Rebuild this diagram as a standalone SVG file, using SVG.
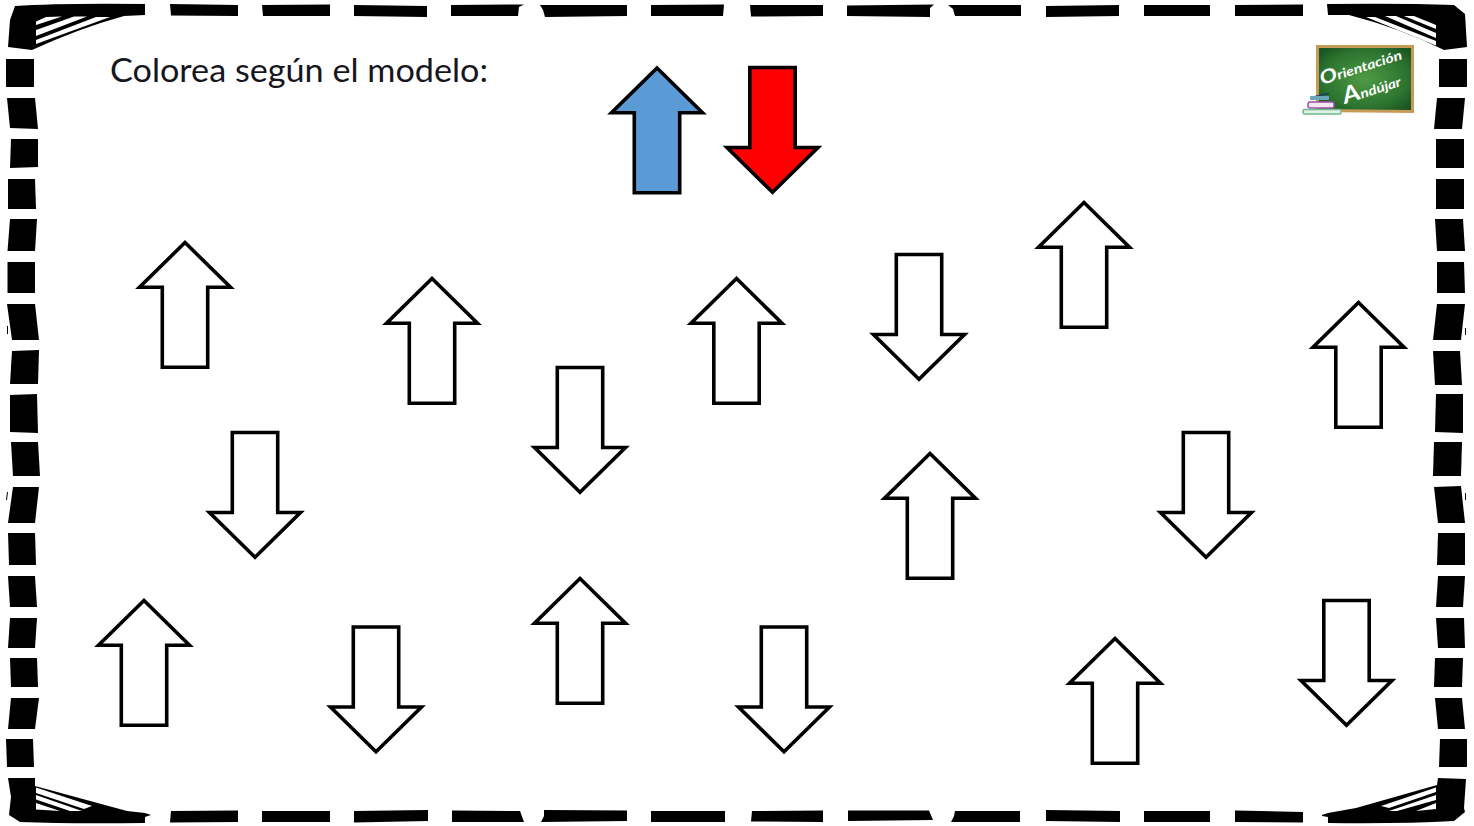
<svg xmlns="http://www.w3.org/2000/svg" width="1474" height="826" viewBox="0 0 1474 826">
<style>
.bk{fill:#000}
.wh{fill:#fff}
.arrow{fill:#fff;stroke:#000;stroke-width:3.600;stroke-linejoin:miter}
.title{font-family:"Lato","Open Sans",sans-serif;font-size:33px;fill:#16161f}
.chalk{font-family:"Lato","Noto Sans",sans-serif;font-weight:700;font-style:italic;fill:#fff}
</style>
<defs>
<path id="up" d="M0 0L45.500 44.800H22.700V124.800H-22.700V44.800H-45.500Z"/>
<path id="down" d="M-22.700 0H22.700V80H45.500L0 124.800L-45.500 80H-22.700Z"/>
<radialGradient id="board" cx="50%" cy="50%" r="65%">
<stop offset="0" stop-color="#4f9a45"/><stop offset="0.7" stop-color="#2c7430"/><stop offset="1" stop-color="#1b5522"/>
</radialGradient>
</defs>
<rect width="1474" height="826" fill="#fff"/>
<g id="border">
<path class="bk" d="M15 6Q60 3 145 4L145 15L124 16Q80 28 32 50L8 47L10 20Z"/>
<path class="wh" d="M36 21.500L36 25L62 16.500L46 17Z"/>
<path class="wh" d="M36 30L36 36L87 16.500L74 16.500Z"/>
<path class="wh" d="M36 40L36 44L110 17L96 17Z"/>
<path class="bk" d="M1327 4Q1400 3 1454 5L1465 14L1467 47L1444 50Q1400 28 1349 15L1328 15Z"/>
<path class="wh" d="M1404 16L1414 16L1436 25L1436 29Z"/>
<path class="wh" d="M1385 16L1396 16L1436 33L1436 38Z"/>
<path class="wh" d="M1366 17L1375 17L1436 41L1436 45.500Z"/>
<path class="bk" d="M8 778L35 778L35 786L127 811L145 813L151 815L145 817L145 823Q70 824 20 822L9 815L11 797Z"/>
<path class="wh" d="M36 787.500L36 793L84 809L92 806Z"/>
<path class="wh" d="M36 795L36 799.500L70 811L82 811Z"/>
<path class="wh" d="M36 803L36 809.500L60 811Z"/>
<path class="bk" d="M1322 815L1328 813L1356 808L1437 785L1438 778L1466 779L1464 808L1465 812L1454 821Q1400 824 1328 823L1328 817L1322 816Z"/>
<path class="wh" d="M1436 787.500L1436 792L1389 808L1381 806Z"/>
<path class="wh" d="M1436 795L1436 800L1397 811L1389 811Z"/>
<path class="wh" d="M1436 803L1436 809L1416 811Z"/>
<path class="bk" d="M170 4L238 5L238 16L171 15.500Z"/>
<path class="bk" d="M262 5L330 4.500L330 16L263 16Z"/>
<path class="bk" d="M354 5L427 6L427 17L354 16Z"/>
<path class="bk" d="M451 5L524 4.500L519 7L518 16L451 16Z"/>
<path class="bk" d="M540 5L627 5L627 16L545 17L543 10Z"/>
<path class="bk" d="M651 5L724 4.500L723 16L651 16Z"/>
<path class="bk" d="M750 5L823 5L823 16L751 16.500Z"/>
<path class="bk" d="M847 5.500L934 4.500L930 8L930 17L847 16Z"/>
<path class="bk" d="M948 5L1021 5L1021 16L955 16L953 9Z"/>
<path class="bk" d="M1046 6L1119 5L1119 16L1046 17Z"/>
<path class="bk" d="M1144 5L1210 5L1210 16L1144 16Z"/>
<path class="bk" d="M1235 5L1303 4.500L1303 16L1235 16Z"/>
<path class="bk" d="M171 811L238 810.500L238 822L170 822.500Z"/>
<path class="bk" d="M262 811L330 811L330 822L262 822Z"/>
<path class="bk" d="M354 811L428 810L428 821L354 822.500Z"/>
<path class="bk" d="M452 810.500L520 811L524 822L452 822Z"/>
<path class="bk" d="M544 810L627 810.500L627 821L541 822L544 816Z"/>
<path class="bk" d="M651 811L725 811L725 822L651 822Z"/>
<path class="bk" d="M752 811L823 810.500L823 822L751 821.500Z"/>
<path class="bk" d="M848 810.500L929 810.500L933 820L848 821Z"/>
<path class="bk" d="M955 811L1020 811L1020 822L951 822L954 816Z"/>
<path class="bk" d="M1046 810L1120 811L1120 822L1046 821Z"/>
<path class="bk" d="M1144 811L1210 811L1210 822L1144 822Z"/>
<path class="bk" d="M1235 810.500L1303 812L1303 822.500L1235 822Z"/>
<path class="bk" d="M6 59L34 59L34 87L6 87Z"/>
<path class="bk" d="M7 98L35 98L38 129L10 128Z"/>
<path class="bk" d="M11 139L38 139L38 167L10 168Z"/>
<path class="bk" d="M8 179L35 179L36 209L8 209Z"/>
<path class="bk" d="M10 219L37 219L35 251L7.500 251Z"/>
<path class="bk" d="M7.500 262L35 262L35 293L7.500 293Z"/>
<path class="bk" d="M7 304L35 304L39 340L12 340Z"/>
<path class="bk" d="M12 351L39 350L38 384L10 384Z"/>
<path class="bk" d="M10 395L37 394L38 433L10 432Z"/>
<path class="bk" d="M11 442L38 442L40 476L13 476Z"/>
<path class="bk" d="M13 487L39 487L35 523L8 523Z"/>
<path class="bk" d="M8 533L35 533L36 565L9 565Z"/>
<path class="bk" d="M8 576L35 576L37 607L10 607Z"/>
<path class="bk" d="M10 618L37 618L35 648L8 648Z"/>
<path class="bk" d="M10 658L37 658L38 687L11 687Z"/>
<path class="bk" d="M11 698L39 698L35 729L8 729Z"/>
<path class="bk" d="M6 739L33 739L34 767L7 767Z"/>
<path class="bk" d="M7 326L8 326L8 334L7 334Z"/>
<path class="bk" d="M7 492L8 492L7 500L6 500Z"/>
<path class="bk" d="M1439 59L1467 59L1467 87L1439 87Z"/>
<path class="bk" d="M1437 98L1465 98L1462 129L1434 129Z"/>
<path class="bk" d="M1436 139L1464 139L1464 168L1436 168Z"/>
<path class="bk" d="M1436 179L1464 179L1464 209L1436 209Z"/>
<path class="bk" d="M1435 219L1463 219L1465 251L1437 251Z"/>
<path class="bk" d="M1437 262L1464 262L1465 293L1437 293Z"/>
<path class="bk" d="M1437 304L1465 304L1461 340L1433 340Z"/>
<path class="bk" d="M1433 351L1460 351L1462 385L1435 385Z"/>
<path class="bk" d="M1436 394L1463 394L1463 433L1435 432Z"/>
<path class="bk" d="M1434 442L1462 442L1461 476L1433 476Z"/>
<path class="bk" d="M1434 487L1461 486L1465 523L1438 523Z"/>
<path class="bk" d="M1438 533L1465 533L1465 565L1437 565Z"/>
<path class="bk" d="M1438 576L1465 576L1463 607L1436 607Z"/>
<path class="bk" d="M1436 618L1464 618L1465 648L1438 648Z"/>
<path class="bk" d="M1435 658L1463 658L1462 687L1434 687Z"/>
<path class="bk" d="M1435 698L1462 698L1465 729L1438 729Z"/>
<path class="bk" d="M1440 739L1467 739L1467 767L1439 767Z"/>
<path class="bk" d="M1465 328L1466 328L1466 335L1465 335Z"/>
<path class="bk" d="M1465 493L1466 493L1466 500L1465 500Z"/>
</g>
<g id="title"><text class="title" x="110" y="82" textLength="378" lengthAdjust="spacingAndGlyphs">Colorea según el modelo:</text></g>
<g id="logo">
<path d="M1316 45L1414 45L1414 113L1316 112Z" fill="#c89a58"/>
<path d="M1319 48L1411 48L1411 110L1319 109Z" fill="url(#board)"/>
<path d="M1310 97L1329 92.500L1329 94L1313 98Z" fill="#1f3f66"/>
<rect x="1310" y="96" width="19" height="4" rx="1" fill="#6aa5b8"/>
<rect x="1308" y="102" width="26" height="6" rx="2" fill="#f4e7f2" stroke="#a04fa8" stroke-width="1.500"/>
<rect x="1303" y="109.500" width="38" height="4.500" rx="1.500" fill="#dff0e4" stroke="#6fb98c" stroke-width="1.500"/>
<text class="chalk" transform="translate(1322 85) rotate(-18)" font-size="13" textLength="85" lengthAdjust="spacingAndGlyphs"><tspan font-size="19">O</tspan>rientación</text>
<text class="chalk" transform="translate(1345 104) rotate(-18)" font-size="13" textLength="60" lengthAdjust="spacingAndGlyphs"><tspan font-size="23">A</tspan>ndújar</text>
</g>
<g id="model-up"><use href="#up" x="657" y="68" class="arrow" style="fill:#5b9bd5"/></g>
<g id="model-down"><use href="#down" x="772.500" y="67.500" class="arrow" style="fill:#f00"/></g>
<g id="arrow-1"><use href="#up" x="185" y="242.500" class="arrow"/></g>
<g id="arrow-2"><use href="#up" x="432" y="278.500" class="arrow"/></g>
<g id="arrow-3"><use href="#up" x="736.500" y="278.500" class="arrow"/></g>
<g id="arrow-4"><use href="#up" x="1084" y="202.500" class="arrow"/></g>
<g id="arrow-5"><use href="#up" x="1358.500" y="302.500" class="arrow"/></g>
<g id="arrow-6"><use href="#up" x="930" y="453.500" class="arrow"/></g>
<g id="arrow-7"><use href="#up" x="144" y="600.500" class="arrow"/></g>
<g id="arrow-8"><use href="#up" x="580" y="578.500" class="arrow"/></g>
<g id="arrow-9"><use href="#up" x="1115" y="638.500" class="arrow"/></g>
<g id="arrow-10"><use href="#down" x="255" y="432.500" class="arrow"/></g>
<g id="arrow-11"><use href="#down" x="580" y="367.500" class="arrow"/></g>
<g id="arrow-12"><use href="#down" x="919" y="254.500" class="arrow"/></g>
<g id="arrow-13"><use href="#down" x="1206" y="432.500" class="arrow"/></g>
<g id="arrow-14"><use href="#down" x="376" y="627" class="arrow"/></g>
<g id="arrow-15"><use href="#down" x="784" y="627" class="arrow"/></g>
<g id="arrow-16"><use href="#down" x="1346.500" y="600.500" class="arrow"/></g>
</svg>
